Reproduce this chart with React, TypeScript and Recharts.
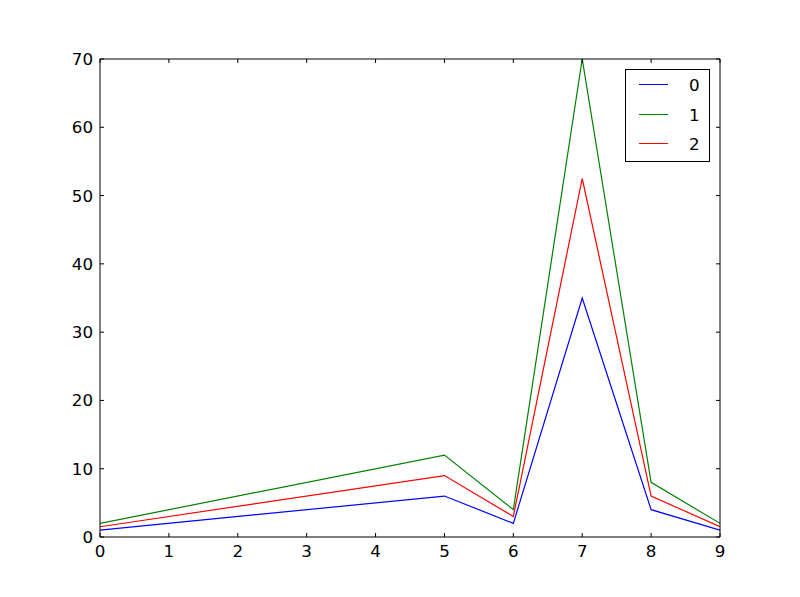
import { LineChart, Line, XAxis, YAxis, Legend } from 'recharts'

const xs = [0, 5, 6, 7, 8, 9]
const s0 = [1, 6, 2, 35, 4, 1]
const s1 = [2, 12, 4, 70, 8, 2]
const s2 = [1.5, 9, 3, 52.5, 6, 1.5]
const xTicks = [0, 1, 2, 3, 4, 5, 6, 7, 8, 9]
const yTicks = [0, 10, 20, 30, 40, 50, 60, 70]

const SERIES = [
  { key: 's0', name: '0', color: '#0000ff' },
  { key: 's1', name: '1', color: '#008000' },
  { key: 's2', name: '2', color: '#ff0000' },
]

const data = xs.map((x, i) => ({ x, s0: s0[i], s1: s1[i], s2: s2[i] }))

const FONT = '"DejaVu Sans", sans-serif'
const FS = 16.7

const BottomTick = ({ x, y, payload }: any) => (
  <g>
    <line x1={x} y1={y} x2={x} y2={y - 4} stroke="#000" />
    <text x={x} y={y + 20} textAnchor="middle" fontFamily={FONT} fontSize={FS} fill="#000">{payload.value}</text>
  </g>
)
const TopTick = ({ x, y }: any) => <line x1={x} y1={y} x2={x} y2={y + 4} stroke="#000" />
const LeftTick = ({ x, y, payload }: any) => (
  <g>
    <line x1={x} y1={y} x2={x + 4} y2={y} stroke="#000" />
    <text x={x - 7} y={y + 6} textAnchor="end" fontFamily={FONT} fontSize={FS} fill="#000">{payload.value}</text>
  </g>
)
const RightTick = ({ x, y }: any) => <line x1={x} y1={y} x2={x - 4} y2={y} stroke="#000" />

const LegendBox = () => (
  <div style={{ width: 83, height: 91, border: '1px solid #000', background: '#fff', fontFamily: FONT, fontSize: FS, boxSizing: 'content-box' }}>
    {SERIES.map((s, i) => (
      <div key={s.key} style={{ position: 'absolute', left: 0, top: 6 + i * 29.5, height: 20, width: 85 }}>
        <div style={{ position: 'absolute', left: 14, top: 9, width: 29, height: 0, borderTop: `1px solid ${s.color}` }} />
        <div style={{ position: 'absolute', left: 64, top: 0, lineHeight: '20px', color: '#000' }}>{s.name}</div>
      </div>
    ))}
  </div>
)

export default function App() {
  return (
    <div style={{ position: 'absolute', left: 0, top: 0, width: 800, height: 597, background: '#fff' }}>
      <LineChart width={800} height={597} data={data} margin={{ top: 58, right: 79, bottom: 0, left: 0 }}>
        <XAxis dataKey="x" type="number" domain={[0, 9]} ticks={xTicks} height={60} tickSize={0} tickMargin={0}
          tick={<BottomTick />} axisLine={{ stroke: '#000' }} tickLine={false} interval={0} allowDataOverflow />
        <XAxis xAxisId="top" dataKey="x" orientation="top" type="number" domain={[0, 9]} ticks={xTicks} height={1} tickSize={0} tickMargin={0}
          tick={<TopTick />} axisLine={{ stroke: '#000' }} tickLine={false} interval={0} allowDataOverflow />
        <YAxis type="number" domain={[0, 70]} ticks={yTicks} width={100} tickSize={0} tickMargin={0}
          tick={<LeftTick />} axisLine={{ stroke: '#000' }} tickLine={false} interval={0} allowDataOverflow />
        <YAxis yAxisId="right" orientation="right" type="number" domain={[0, 70]} ticks={yTicks} width={1} tickSize={0} tickMargin={0}
          tick={<RightTick />} axisLine={{ stroke: '#000' }} tickLine={false} interval={0} allowDataOverflow />
        {SERIES.map(s => (
          <Line key={s.key} dataKey={s.key} name={s.name} stroke={s.color} strokeWidth={1.2} dot={false}
            activeDot={false} isAnimationActive={false} type="linear" />
        ))}
        {/* invisible series so the mirrored top/right axes get drawn */}
        <Line xAxisId="top" yAxisId="right" dataKey="s0" stroke="none" dot={false} activeDot={false}
          legendType="none" isAnimationActive={false} />
        <Legend layout="vertical" align="center" verticalAlign="middle" content={<LegendBox />}
          wrapperStyle={{ position: 'absolute', left: 625, top: 69, width: 85, height: 93 }} />
      </LineChart>
    </div>
  )
}
